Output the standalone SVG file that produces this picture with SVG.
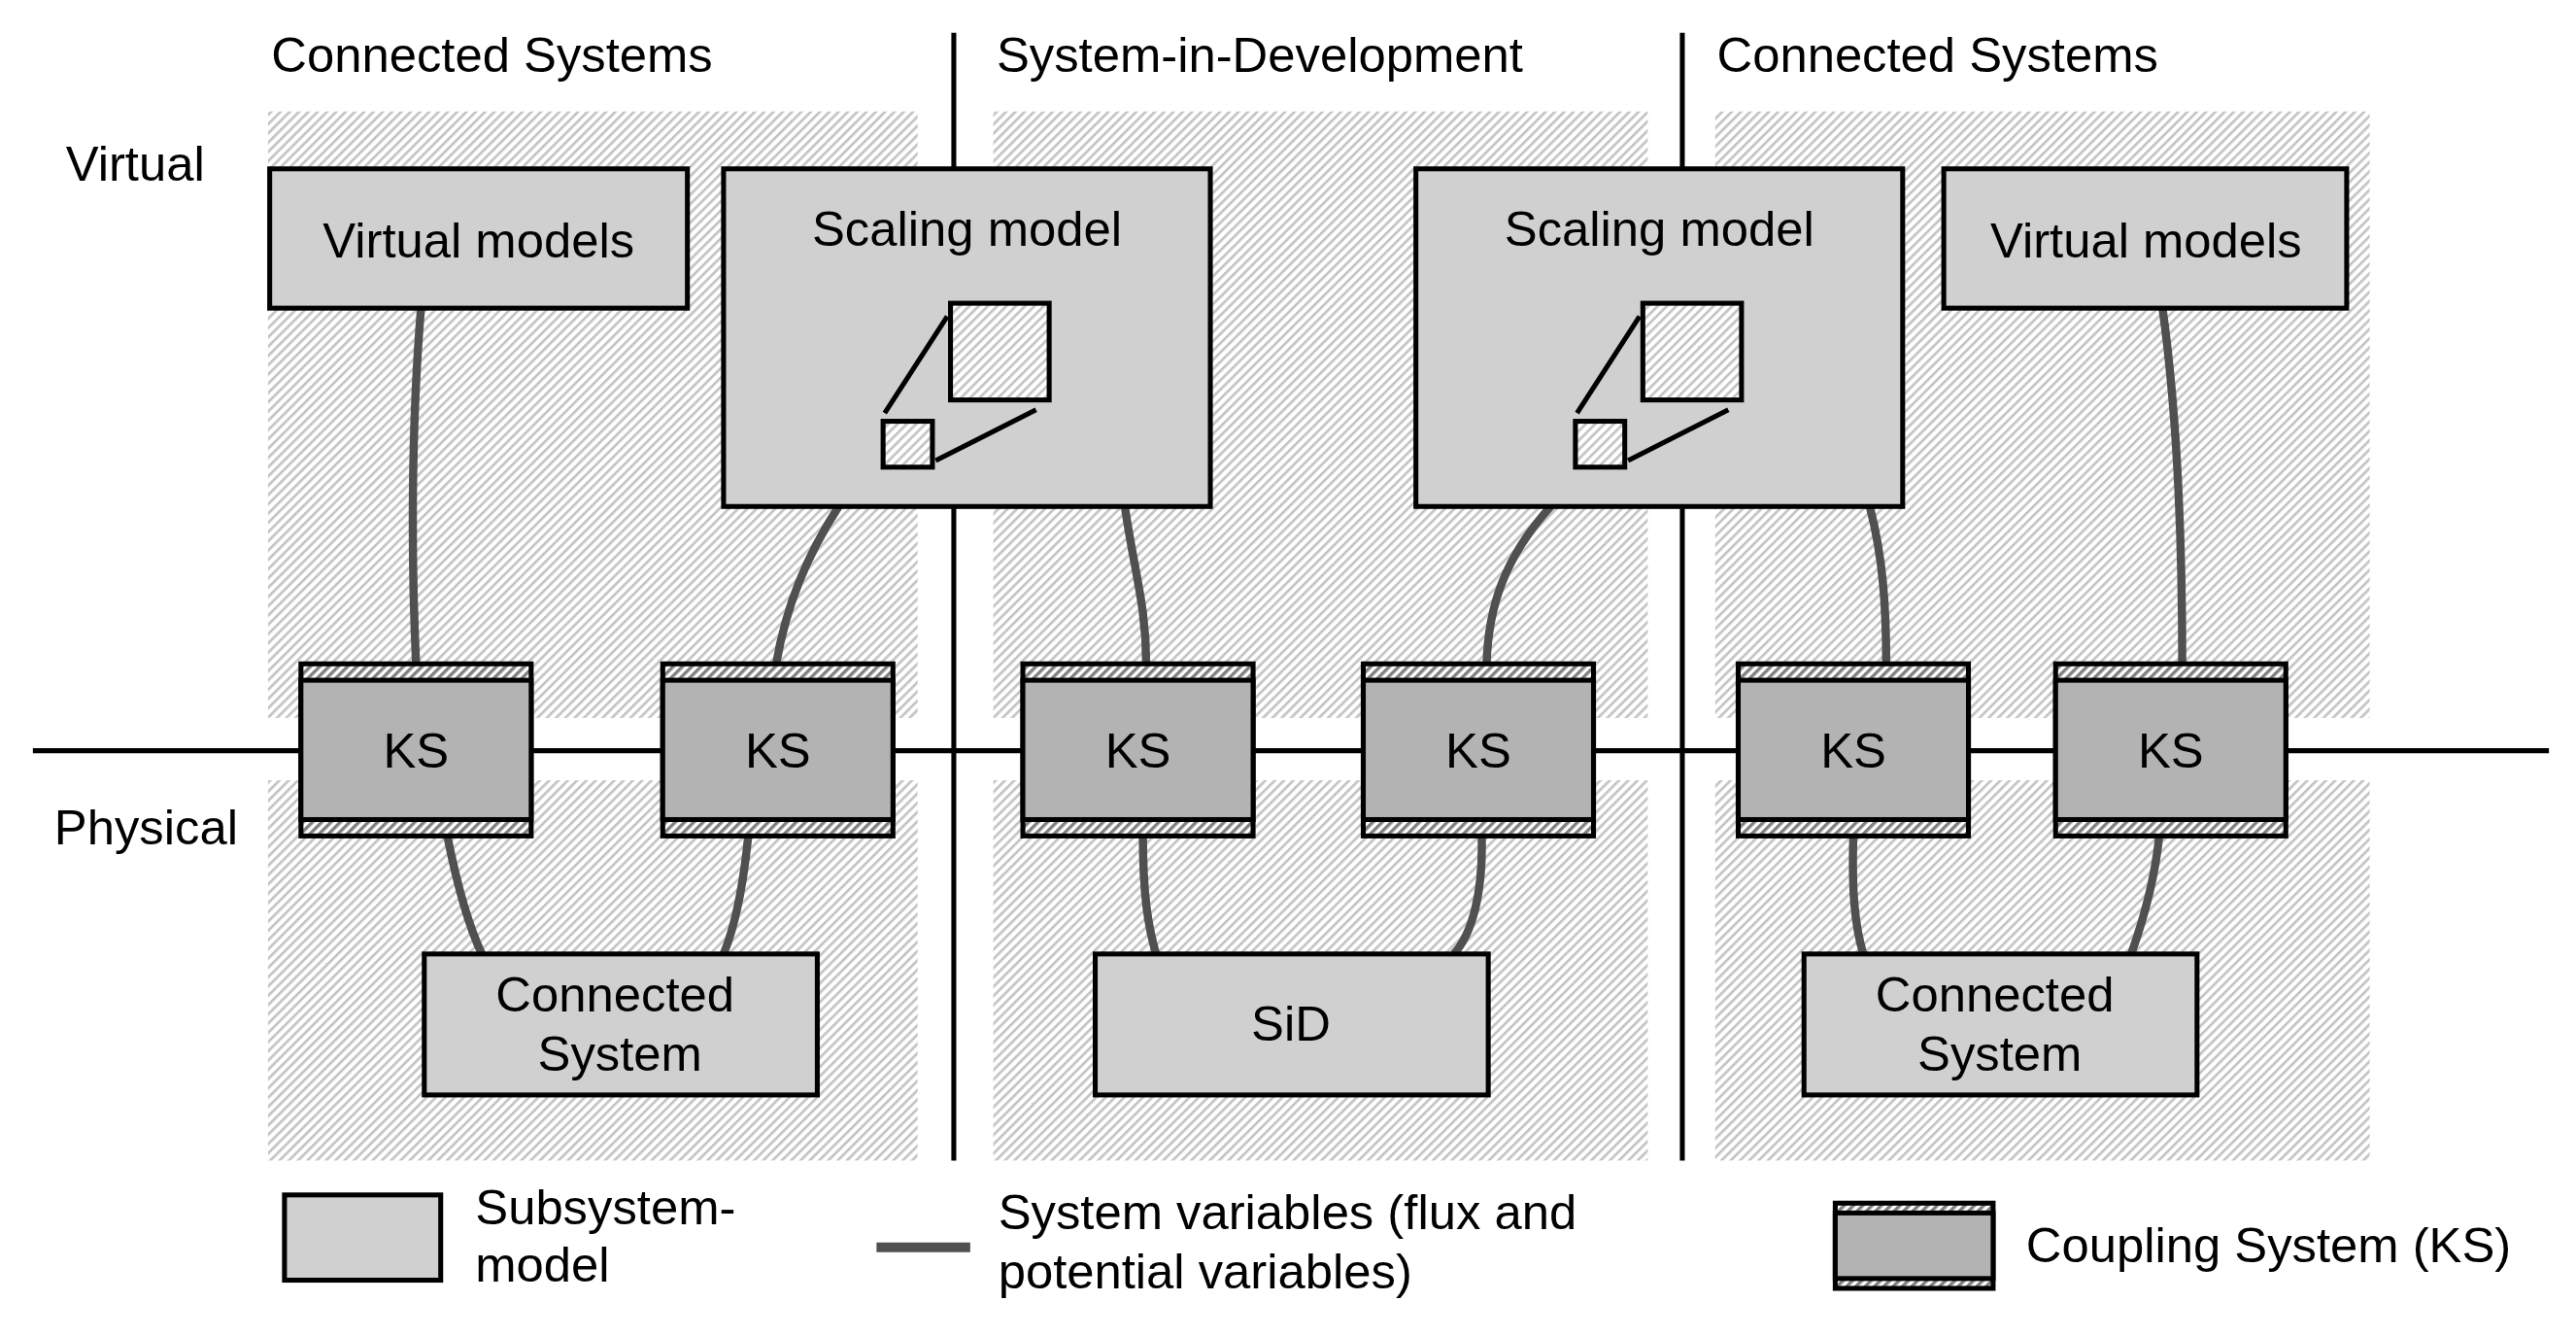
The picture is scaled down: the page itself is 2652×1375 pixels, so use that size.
<svg xmlns="http://www.w3.org/2000/svg" width="2652" height="1375" viewBox="0 0 2652 1375">
<defs>
<pattern id="hatch" width="4" height="4" patternUnits="userSpaceOnUse" patternTransform="rotate(-45)">
<rect width="4" height="4" fill="#fff"/><rect width="4" height="1.6" fill="#c4c4c4"/>
</pattern>
<pattern id="ksh" width="4" height="4" patternUnits="userSpaceOnUse" patternTransform="rotate(-45)">
<rect width="4" height="4" fill="#fff"/><rect width="4" height="2" fill="#808080"/>
</pattern>
</defs>
<style>
text{font-family:"Liberation Sans",Arial,sans-serif;font-size:30px;fill:#000}
.c{text-anchor:middle}
.box{fill:#d0d0d0;stroke:#000;stroke-width:3}
.ks{fill:#b3b3b3;stroke:#000;stroke-width:3}
.band{fill:url(#ksh);stroke:#000;stroke-width:3}
.con{fill:none;stroke:#505050;stroke-width:5}
.ln{stroke:#000;stroke-width:3;fill:none}
</style>
<rect width="2652" height="1375" fill="#fff"/>
<g transform="scale(1.693 1.687)">
<g id="background">
<rect x="163" y="68" width="395" height="370" fill="url(#hatch)"/>
<rect x="163" y="476" width="395" height="232" fill="url(#hatch)"/>
<rect x="604" y="68" width="398" height="370" fill="url(#hatch)"/>
<rect x="604" y="476" width="398" height="232" fill="url(#hatch)"/>
<rect x="1043" y="68" width="398" height="370" fill="url(#hatch)"/>
<rect x="1043" y="476" width="398" height="232" fill="url(#hatch)"/>
<line class="ln" x1="580" y1="20" x2="580" y2="708"/>
<line class="ln" x1="1023" y1="20" x2="1023" y2="708"/>
<line class="ln" x1="20" y1="458" x2="1550" y2="458"/>
<text x="165" y="44">Connected Systems</text>
<text x="606" y="44">System-in-Development</text>
<text x="1044" y="44">Connected Systems</text>
<text x="40" y="110">Virtual</text>
<text x="33" y="515">Physical</text>
</g>
<g id="connectors">
<path class="con" d="M256,188 C250,260 250,340 253,405"/>
<path class="con" d="M510,309 C490,340 478,370 472,405"/>
<path class="con" d="M684,309 C690,350 697,370 697,405"/>
<path class="con" d="M943,309 C915,340 905,370 904,405"/>
<path class="con" d="M1137,309 C1145,340 1147,370 1147,405"/>
<path class="con" d="M1315,188 C1325,260 1327,340 1327,405"/>
<path class="con" d="M272,510 C278,540 285,565 293,582"/>
<path class="con" d="M455,510 C452,540 447,565 440,582"/>
<path class="con" d="M695,510 C695,545 698,565 703,582"/>
<path class="con" d="M901,510 C902,545 895,570 884,582"/>
<path class="con" d="M1127,510 C1126,545 1128,565 1133,582"/>
<path class="con" d="M1313,510 C1310,540 1302,565 1296,582"/>
</g>
<g id="vm1"><rect class="box" x="164" y="103" width="254" height="85"/><text class="c" x="291" y="157">Virtual models</text></g>
<g id="vm2"><rect class="box" x="1182" y="103" width="245" height="85"/><text class="c" x="1305" y="157">Virtual models</text></g>
<g id="scale1">
<rect class="box" x="440" y="103" width="296" height="206"/><text class="c" x="588" y="150">Scaling model</text>
<rect x="578" y="185" width="60" height="59" fill="url(#hatch)" stroke="#000" stroke-width="3"/>
<rect x="537" y="257" width="30" height="28" fill="url(#hatch)" stroke="#000" stroke-width="3"/>
<line class="ln" x1="576" y1="193" x2="538" y2="252"/><line class="ln" x1="569" y1="281" x2="630" y2="250"/>
</g>
<g id="scale2">
<rect class="box" x="861" y="103" width="296" height="206"/><text class="c" x="1009" y="150">Scaling model</text>
<rect x="999" y="185" width="60" height="59" fill="url(#hatch)" stroke="#000" stroke-width="3"/>
<rect x="958" y="257" width="30" height="28" fill="url(#hatch)" stroke="#000" stroke-width="3"/>
<line class="ln" x1="997" y1="193" x2="959" y2="252"/><line class="ln" x1="990" y1="281" x2="1051" y2="250"/>
</g>
<g id="ks1"><rect class="band" x="183" y="405" width="140" height="105"/><rect class="ks" x="183" y="415" width="140" height="85"/><text class="c" x="253" y="468">KS</text></g>
<g id="ks2"><rect class="band" x="403" y="405" width="140" height="105"/><rect class="ks" x="403" y="415" width="140" height="85"/><text class="c" x="473" y="468">KS</text></g>
<g id="ks3"><rect class="band" x="622" y="405" width="140" height="105"/><rect class="ks" x="622" y="415" width="140" height="85"/><text class="c" x="692" y="468">KS</text></g>
<g id="ks4"><rect class="band" x="829" y="405" width="140" height="105"/><rect class="ks" x="829" y="415" width="140" height="85"/><text class="c" x="899" y="468">KS</text></g>
<g id="ks5"><rect class="band" x="1057" y="405" width="140" height="105"/><rect class="ks" x="1057" y="415" width="140" height="85"/><text class="c" x="1127" y="468">KS</text></g>
<g id="ks6"><rect class="band" x="1250" y="405" width="140" height="105"/><rect class="ks" x="1250" y="415" width="140" height="85"/><text class="c" x="1320" y="468">KS</text></g>
<g id="cs1"><rect class="box" x="258" y="582" width="239" height="86"/><text class="c" x="374" y="617">Connected</text><text class="c" x="377" y="653">System</text></g>
<g id="sid"><rect class="box" x="666" y="582" width="239" height="86"/><text class="c" x="785" y="635">SiD</text></g>
<g id="cs2"><rect class="box" x="1097" y="582" width="239" height="86"/><text class="c" x="1213" y="617">Connected</text><text class="c" x="1216" y="653">System</text></g>
<g id="legend">
<rect class="box" x="173" y="729" width="95" height="52"/>
<text x="289" y="747">Subsystem-</text><text x="289" y="782">model</text>
<line x1="533" y1="761" x2="590" y2="761" stroke="#505050" stroke-width="6"/>
<text x="607" y="750">System variables (flux and</text><text x="607" y="786">potential variables)</text>
<rect class="band" x="1116" y="734" width="96" height="52"/><rect class="ks" x="1116" y="740" width="96" height="40"/>
<text x="1232" y="770">Coupling System (KS)</text>
</g>
</g>
</svg>
